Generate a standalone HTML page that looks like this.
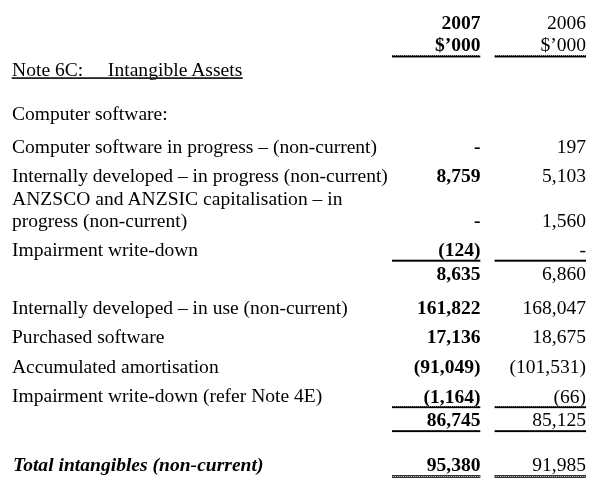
<!DOCTYPE html>
<html><head><meta charset="utf-8">
<style>
html,body{margin:0;padding:0;background:#fff;}
body{width:600px;height:504px;position:relative;overflow:hidden;font-family:"Liberation Serif",serif;font-size:19.55px;color:#000;}
.r{position:absolute;left:0;width:600px;height:22px;line-height:22px;white-space:nowrap;}
.l{position:absolute;left:12px;}
.a{position:absolute;right:119.5px;font-weight:bold;text-align:right;}
.b{position:absolute;right:14px;text-align:right;}
.u{white-space:pre;}
.t{font-weight:bold;font-style:italic;}
svg{position:absolute;left:0;top:0;}
</style></head><body>
<div class="r" style="top:12px"><span class="a">2007</span><span class="b">2006</span></div>
<div class="r" style="top:34px"><span class="a">$’000</span><span class="b">$’000</span></div>
<div class="r" style="top:59px"><span class="l u" style="letter-spacing:0.03px">Note 6C:     Intangible Assets</span></div>
<div class="r" style="top:103px"><span class="l">Computer software:</span></div>
<div class="r" style="top:136px"><span class="l">Computer software in progress – (non-current)</span><span class="a">-</span><span class="b">197</span></div>
<div class="r" style="top:165px"><span class="l">Internally developed – in progress (non-current)</span><span class="a">8,759</span><span class="b">5,103</span></div>
<div class="r" style="top:188px"><span class="l" style="letter-spacing:0.035px">ANZSCO and ANZSIC capitalisation – in</span></div>
<div class="r" style="top:210px"><span class="l">progress (non-current)</span><span class="a">-</span><span class="b">1,560</span></div>
<div class="r" style="top:239px"><span class="l">Impairment write-down</span><span class="a">(124)</span><span class="b">-</span></div>
<div class="r" style="top:263px"><span class="a">8,635</span><span class="b">6,860</span></div>
<div class="r" style="top:297px"><span class="l">Internally developed – in use (non-current)</span><span class="a">161,822</span><span class="b">168,047</span></div>
<div class="r" style="top:326px"><span class="l">Purchased software</span><span class="a">17,136</span><span class="b">18,675</span></div>
<div class="r" style="top:356px"><span class="l">Accumulated amortisation</span><span class="a">(91,049)</span><span class="b">(101,531)</span></div>
<div class="r" style="top:386px"><span class="l" style="top:-1px">Impairment write-down (refer Note 4E)</span><span class="a">(1,164)</span><span class="b">(66)</span></div>
<div class="r" style="top:409px"><span class="a">86,745</span><span class="b">85,125</span></div>
<div class="r" style="top:454px"><span class="l t" style="left:13px;letter-spacing:0.015px">Total intangibles (non-current)</span><span class="a">95,380</span><span class="b">91,985</span></div>
<svg width="600" height="504" viewBox="0 0 600 504">
<g shape-rendering="auto">
<rect x="392" y="55" width="88.3" height="1" fill="#9a9a9a"/>
<line x1="392" y1="55.5" x2="480" y2="55.5" stroke="#2a2a2a" stroke-width="1" stroke-dasharray="1 1"/>
<rect x="392" y="56" width="88.3" height="1" fill="#000"/>
<rect x="392" y="57" width="88.3" height="1" fill="#8c8c8c"/>
<rect x="392" y="259.7" width="88.3" height="2" fill="#000"/>
<rect x="392" y="406" width="88.3" height="1" fill="#6a6a6a"/>
<line x1="392" y1="406.5" x2="480" y2="406.5" stroke="#1c1c1c" stroke-width="1" stroke-dasharray="1 1"/>
<rect x="392" y="407" width="88.3" height="1" fill="#000"/>
<rect x="392" y="408" width="88.3" height="1" fill="#d8d8d8"/>
<rect x="392" y="430.2" width="88.3" height="1.9" fill="#000"/>
<rect x="392" y="475" width="88.3" height="3" fill="#333"/>
<rect x="392" y="476" width="88.3" height="1" fill="#555"/>
<line x1="393" y1="476.5" x2="480" y2="476.5" stroke="#b4b4b4" stroke-width="1" stroke-dasharray="1 1"/>
<rect x="494.6" y="55" width="91.4" height="1" fill="#9a9a9a"/>
<line x1="495" y1="55.5" x2="586" y2="55.5" stroke="#2a2a2a" stroke-width="1" stroke-dasharray="1 1"/>
<rect x="494.6" y="56" width="91.4" height="1" fill="#000"/>
<rect x="494.6" y="57" width="91.4" height="1" fill="#8c8c8c"/>
<rect x="494.6" y="259.7" width="91.4" height="2" fill="#000"/>
<rect x="494.6" y="406" width="91.4" height="1" fill="#6a6a6a"/>
<line x1="495" y1="406.5" x2="586" y2="406.5" stroke="#1c1c1c" stroke-width="1" stroke-dasharray="1 1"/>
<rect x="494.6" y="407" width="91.4" height="1" fill="#000"/>
<rect x="494.6" y="408" width="91.4" height="1" fill="#d8d8d8"/>
<rect x="494.6" y="430.2" width="91.4" height="1.9" fill="#000"/>
<rect x="494.6" y="475" width="91.4" height="3" fill="#333"/>
<rect x="494.6" y="476" width="91.4" height="1" fill="#555"/>
<line x1="496" y1="476.5" x2="586" y2="476.5" stroke="#b4b4b4" stroke-width="1" stroke-dasharray="1 1"/>
<rect x="11.7" y="77.2" width="231" height="1.8" fill="#222"/>
</g>
</svg>
</body></html>
